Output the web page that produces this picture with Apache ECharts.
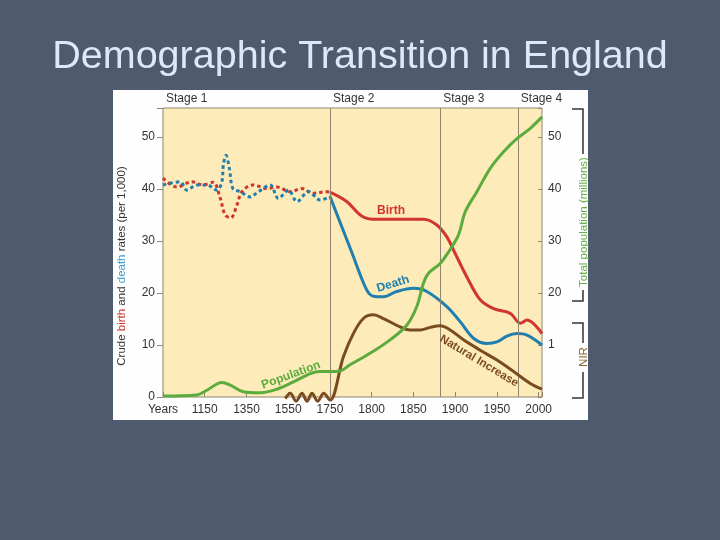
<!DOCTYPE html>
<html>
<head>
<meta charset="utf-8">
<title>Demographic Transition in England</title>
<script src="https://cdn.jsdelivr.net/npm/echarts@6/dist/echarts.min.js"></script>
<style>
  html, body { margin: 0; padding: 0; background: #4e5a6d; }
  #chart { width: 720px; height: 540px; }
</style>
</head>
<body>
<div id="chart"></div>
<script>
// tick labels on the stretched time axis (200-year steps, then 50-year steps)
var xTickLabels = ['Years', '1150', '1350', '1550', '1750', '1800', '1850', '1900', '1950', '2000'];
var stageNames = ['Stage 1', 'Stage 2', 'Stage 3', 'Stage 4'];
var stageStarts = [950, 1750, 1882, 1975];
var rightTickLabels = { 10: '1', 20: '20', 30: '30', 40: '40', 50: '50' };

// crude birth rate, per 1,000 (dotted = estimated, before 1750)
var birthEarlyYears = [950, 1016, 1088, 1142, 1190, 1224, 1248, 1275, 1304, 1328, 1382, 1448, 1496, 1560, 1616, 1670, 1736, 1750];
var birthEarly = [42.1, 40.4, 41.4, 40.8, 41.3, 38.3, 35, 34.5, 36.9, 39.5, 40.8, 40.1, 40.4, 39.5, 40.1, 39.2, 39.5, 39.4];
var birthLateYears = [1750, 1770, 1788, 1802, 1830, 1862, 1878, 1890, 1900, 1914, 1930, 1946, 1966, 1978, 1986, 2004];
var birthLate = [39.4, 37.6, 34.8, 34.2, 34.2, 34.2, 33.1, 30.8, 27.6, 23.1, 18.7, 17, 16.1, 14.2, 14.8, 12.2];

// crude death rate, per 1,000
var deathEarlyYears = [950, 1032, 1064, 1112, 1160, 1208, 1232, 1239, 1252, 1268, 1285, 1320, 1368, 1407, 1464, 1503, 1551, 1592, 1647, 1704, 1750];
var deathEarly = [40.8, 41.4, 39.8, 40.8, 40.8, 39.8, 41.4, 44.6, 46.5, 44, 40.1, 39.5, 38.5, 39.5, 40.8, 38.2, 39.8, 37.6, 39.5, 37.9, 38.6];
var deathLateYears = [1750, 1776, 1794, 1802, 1814, 1830, 1850, 1866, 1890, 1906, 1922, 1938, 1950, 1962, 1974, 1986, 2004];
var deathLate = [38.6, 27.9, 20.6, 19.4, 19.3, 20.3, 20.9, 20.3, 17.4, 14.5, 11.3, 10.3, 10.6, 11.7, 12.2, 11.9, 10];

// total population, millions
var popYears = [950, 1112, 1160, 1232, 1272, 1335, 1416, 1496, 1575, 1656, 1700, 1750, 1762, 1774, 1798, 1822, 1842, 1854, 1862, 1868, 1882, 1892, 1904, 1912, 1926, 1942, 1958, 1974, 1990, 2004];
var population = [0.2, 0.4, 1.3, 2.8, 2.3, 1, 0.8, 1.5, 2.9, 4.5, 4.9, 4.9, 5, 6.2, 8.4, 11, 13.8, 17.4, 21.9, 23.8, 25.7, 27.9, 31.2, 35.6, 39.5, 44, 47.2, 49.7, 51.7, 53.9];

// natural increase
var niYears = [1536, 1560, 1588, 1616, 1640, 1664, 1691, 1720, 1750, 1766, 1778, 1790, 1802, 1814, 1830, 1846, 1858, 1870, 1882, 1894, 1910, 1930, 1950, 1970, 1990, 2004];
var naturalIncrease = [-0.3, 0.7, -0.8, 0.7, -0.8, 0.7, -0.8, 0.7, -0.6, 7.7, 12.2, 15.1, 15.8, 15.1, 13.8, 12.9, 12.9, 13.4, 13.7, 12.9, 11, 9, 7.1, 4.9, 2.6, 1.5];

var FONT = '"Liberation Sans", Arial, sans-serif';
var AXIS_GREY = '#8f8572';

function yearToX(year) {
	// axis is stretched: one tick per 200 years before 1750, per 50 years after
	if (year <= 1750) return (year - 950) / 200;
	return 4 + (year - 1750) / 50;
}

function toPoints(years, values) {
	var pts = [];
	for (var i = 0; i < years.length; i++) pts.push([yearToX(years[i]), values[i]]);
	return pts;
}

function lineSeries(name, pts, color, dotted, z) {
	return {
		name: name,
		type: 'line',
		data: pts,
		smooth: 0.35,
		symbol: 'none',
		clip: false,
		z: z,
		lineStyle: { color: color, width: 3, type: dotted ? [3.5, 3] : 'solid' }
	};
}

var stageLines = [];
for (var s = 1; s < stageStarts.length; s++) stageLines.push({ xAxis: yearToX(stageStarts[s]) });

var birthEarlySeries = lineSeries('Birth', toPoints(birthEarlyYears, birthEarly), '#d1352f', true, 3);
birthEarlySeries.markLine = {
	silent: true,
	symbol: ['none', 'none'],
	label: { show: false },
	lineStyle: { color: AXIS_GREY, width: 1, type: 'solid' },
	data: stageLines
};

var option = {
	backgroundColor: '#4e5a6d',
	animation: false,
	title: {
		text: 'Demographic Transition in England',
		left: 'center',
		top: 32,
		textStyle: { color: '#dce9f9', fontSize: 39.5, fontWeight: 'normal', fontFamily: FONT }
	},
	grid: {
		left: 163, top: 108, right: 178, bottom: 143,
		show: true,
		backgroundColor: '#fdecba',
		borderColor: AXIS_GREY,
		borderWidth: 1
	},
	xAxis: {
		type: 'value',
		min: 0, max: 9.08, interval: 1,
		splitLine: { show: false },
		axisLine: { show: false },
		axisTick: { show: true, inside: true, length: 5, lineStyle: { color: AXIS_GREY } },
		axisLabel: {
			margin: 7, color: '#333', fontSize: 12, fontFamily: FONT,
			formatter: function (v) { return Math.abs(v - Math.round(v)) < 1e-6 ? (xTickLabels[Math.round(v)] || '') : ''; }
		}
	},
	yAxis: [{
		type: 'value',
		min: 0, max: 55.6, interval: 10,
		splitLine: { show: false },
		axisLine: { show: false },
		axisTick: { show: true, length: 6, lineStyle: { color: AXIS_GREY } },
		axisLabel: {
			margin: 8, color: '#333', fontSize: 12, fontFamily: FONT,
			formatter: function (v) { return v % 10 === 0 ? String(v) : ''; }
		}
	}, {
		type: 'value',
		position: 'right',
		min: 0, max: 55.6, interval: 10,
		splitLine: { show: false },
		axisLine: { show: false },
		axisTick: { show: true, inside: true, length: 4, lineStyle: { color: AXIS_GREY } },
		axisLabel: {
			margin: 6, color: '#333', fontSize: 12, fontFamily: FONT,
			formatter: function (v) { return rightTickLabels[v] || ''; }
		}
	}],
	series: [
		birthEarlySeries,
		lineSeries('Death', toPoints(deathEarlyYears, deathEarly), '#1f7fae', true, 4),
		lineSeries('Birth', toPoints(birthLateYears, birthLate), '#d1352f', false, 3),
		lineSeries('Death', toPoints(deathLateYears, deathLate), '#1f7fae', false, 4),
		lineSeries('Natural Increase', toPoints(niYears, naturalIncrease), '#7b4b20', false, 5),
		lineSeries('Population', toPoints(popYears, population), '#5cab3d', false, 6)
	]
};

var myChart = echarts.init(document.getElementById('chart'));
myChart.setOption(option);

// positions of stage labels follow the stage boundaries on the x axis
var graphics = [{
	type: 'rect', z: -10,
	shape: { x: 113, y: 90, width: 475, height: 330 },
	style: { fill: '#fefefe' }
}];
for (var k = 0; k < stageNames.length; k++) {
	var px = myChart.convertToPixel({ gridIndex: 0 }, [Math.max(yearToX(stageStarts[k]), 0), 0])[0];
	graphics.push({
		type: 'text', x: px + 3, y: 99,
		style: { text: stageNames[k], font: '12px ' + FONT, fill: '#333', align: 'left', verticalAlign: 'middle' }
	});
}

function curveLabel(text, x, y, deg, color, size) {
	return {
		type: 'text', x: x, y: y, rotation: deg * Math.PI / 180, z: 20,
		style: { text: text, font: 'bold ' + size + 'px ' + FONT, fill: color, align: 'center', verticalAlign: 'middle' }
	};
}
graphics.push(curveLabel('Birth', 391, 211, 0, '#d1352f', 12));
graphics.push(curveLabel('Death', 393, 284, 17, '#1f7fae', 12));
graphics.push(curveLabel('Population', 291, 375, 20, '#5cab3d', 12));
graphics.push(curveLabel('Natural Increase', 479, 361, -31, '#7b4b20', 11.5));

// axis titles
graphics.push({
	type: 'text', x: 122, y: 266, rotation: Math.PI / 2,
	style: {
		text: '{a|Crude }{b|birth}{a| and }{c|death}{a| rates (per 1,000)}',
		align: 'center', verticalAlign: 'middle',
		rich: {
			a: { font: '11.5px ' + FONT, fill: '#333' },
			b: { font: '11.5px ' + FONT, fill: '#d1352f' },
			c: { font: '11.5px ' + FONT, fill: '#3a9ad0' }
		}
	}
});
graphics.push({
	type: 'text', x: 584, y: 222, rotation: Math.PI / 2,
	style: { text: 'Total population (millions)', font: '11.5px ' + FONT, fill: '#62ad45', align: 'center', verticalAlign: 'middle' }
});
graphics.push({
	type: 'text', x: 584, y: 357, rotation: Math.PI / 2,
	style: { text: 'NIR', font: '11.5px ' + FONT, fill: '#8a6234', align: 'center', verticalAlign: 'middle' }
});

// brackets on the right
var bracketStyle = { stroke: '#333', lineWidth: 1.5, fill: null };
graphics.push({ type: 'polyline', shape: { points: [[572, 109], [583, 109], [583, 154]] }, style: bracketStyle });
graphics.push({ type: 'polyline', shape: { points: [[583, 290], [583, 301], [572, 301]] }, style: bracketStyle });
graphics.push({ type: 'polyline', shape: { points: [[572, 323], [583, 323], [583, 343]] }, style: bracketStyle });
graphics.push({ type: 'polyline', shape: { points: [[583, 372], [583, 398], [572, 398]] }, style: bracketStyle });

myChart.setOption({ graphic: graphics });
</script>
</body>
</html>
